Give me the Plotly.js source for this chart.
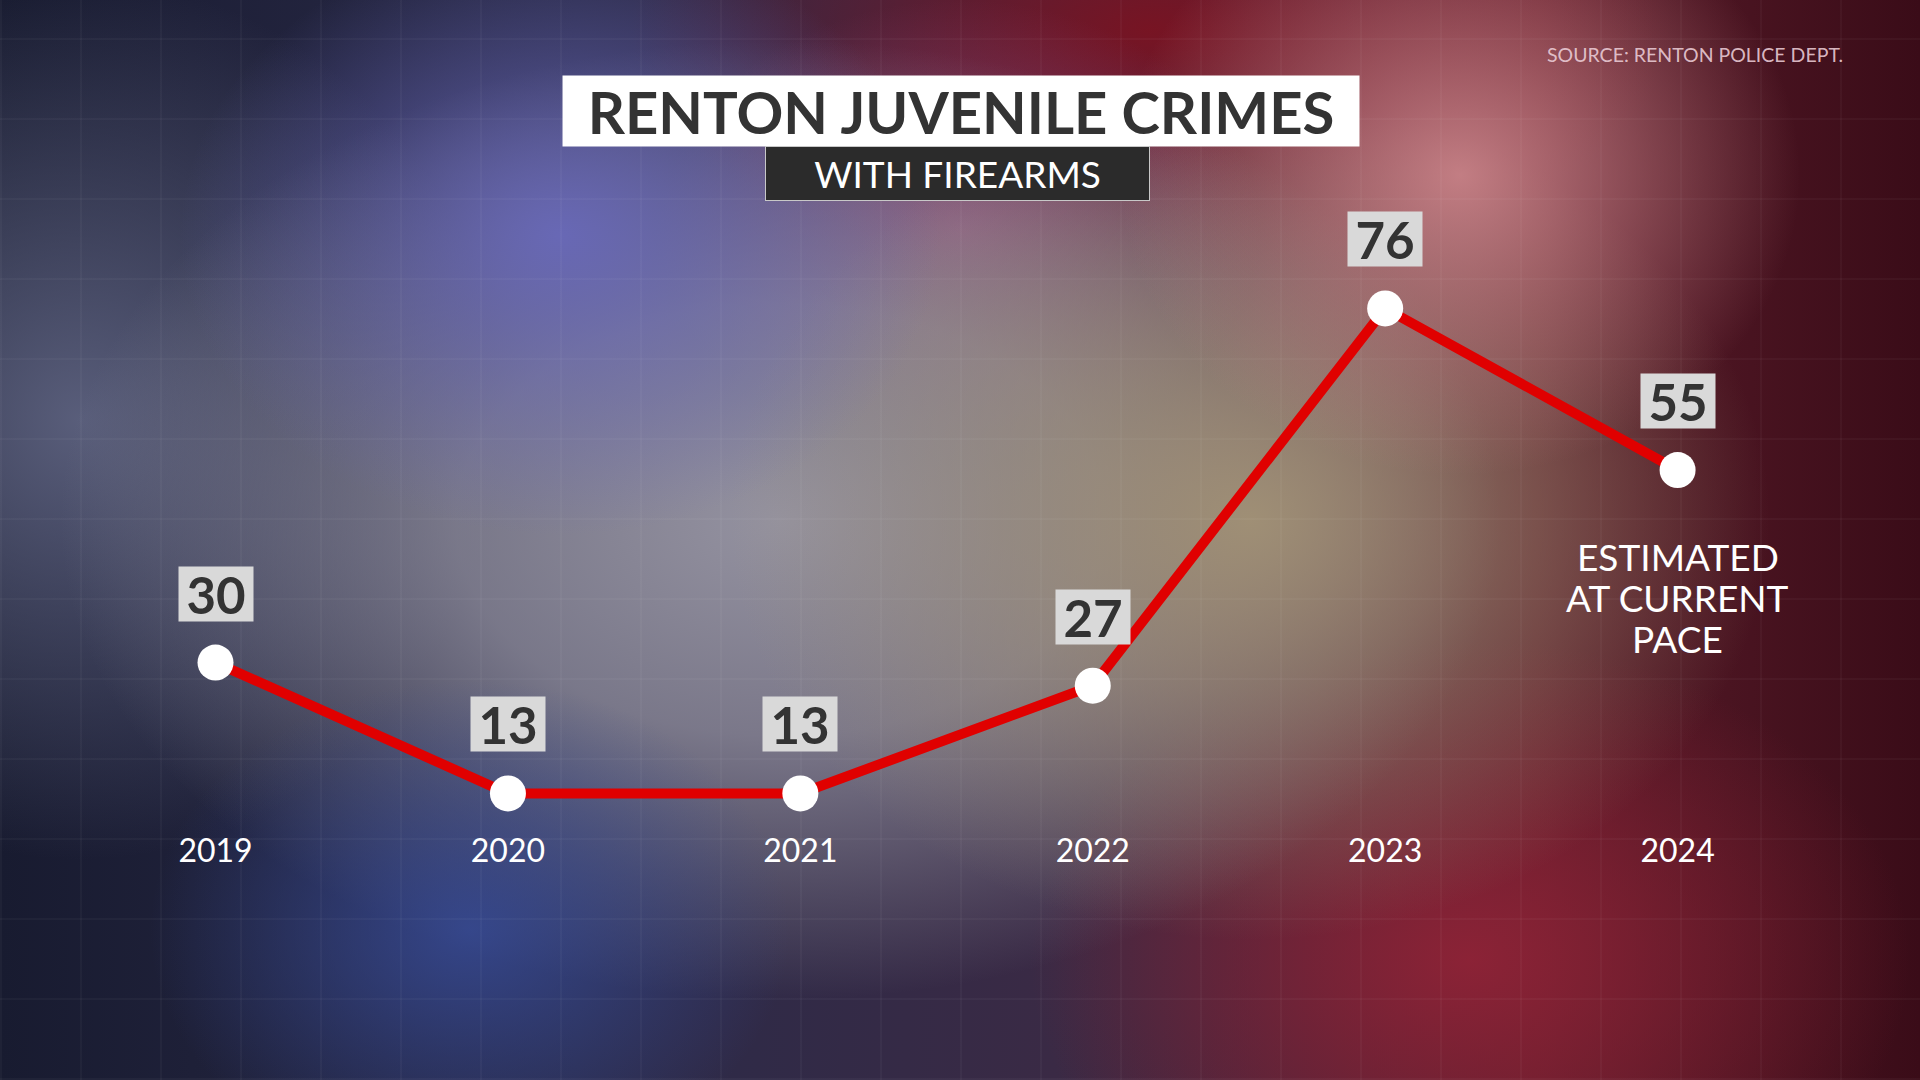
<!DOCTYPE html>
<html>
<head>
<meta charset="utf-8">
<script src="https://cdn.plot.ly/plotly-3.0.1.min.js"></script>
<style>
html,body{margin:0;padding:0;width:1920px;height:1080px;overflow:hidden;}
body{
  background:
    repeating-linear-gradient(90deg, rgba(255,255,255,0.03) 0 2px, rgba(255,255,255,0) 2px 80px),
    repeating-linear-gradient(0deg, rgba(255,255,255,0.03) 0 2px, rgba(255,255,255,0) 2px 80px),
    radial-gradient(ellipse 340px 300px at 1460px 175px, rgba(205,135,140,0.9), rgba(205,135,140,0) 100%),
    radial-gradient(ellipse 380px 300px at 560px 235px, rgba(105,105,185,0.95), rgba(105,105,185,0) 100%),
    radial-gradient(ellipse 320px 250px at 470px 930px, rgba(55,75,150,0.85), rgba(55,75,150,0) 100%),
    radial-gradient(ellipse 520px 420px at 1250px 520px, rgba(162,146,118,0.95) 0%, rgba(162,146,118,0.6) 40%, rgba(162,146,118,0) 100%),
    radial-gradient(ellipse 720px 480px at 780px 520px, rgba(148,146,160,1) 0%, rgba(148,146,160,0.75) 45%, rgba(148,146,160,0) 100%),
    radial-gradient(ellipse 300px 230px at 960px 230px, rgba(150,70,120,0.8), rgba(150,70,120,0) 100%),
    radial-gradient(ellipse 440px 320px at 1470px 960px, rgba(145,35,55,0.9), rgba(145,35,55,0) 100%),
    radial-gradient(ellipse 520px 250px at 1150px 30px, rgba(125,18,32,0.9), rgba(125,18,32,0) 100%),
    radial-gradient(ellipse 420px 440px at 80px 420px, rgba(100,105,135,0.85), rgba(100,105,135,0) 100%),
    linear-gradient(90deg, #181b30 0%, #2a2a48 30%, #3a2a45 55%, #5a1c2a 80%, #3a0c18 100%);
}
#chart{width:1920px;height:1080px;}
</style>
</head>
<body>
<div id="chart"></div>
<script>
const years = [2019, 2020, 2021, 2022, 2023, 2024];
const values = [30, 13, 13, 27, 76, 55];
const yearLabels = ["2019", "2020", "2021", "2022", "2023", "2024"];
const valueLabels = ["30", "13", "13", "27", "76", "55"];
const titleText = "RENTON JUVENILE CRIMES";
const subtitleText = "WITH FIREARMS";
const sourceText = "SOURCE: RENTON POLICE DEPT.";
const noteLines = ["ESTIMATED", "AT CURRENT", "PACE"];

const FONT = "Lato, 'Open Sans', sans-serif";

const traces = [{
  x: years,
  y: values,
  type: "scatter",
  mode: "lines+markers",
  line: {color: "#e00000", width: 10},
  marker: {color: "#ffffff", size: 36, line: {width: 0}},
  hoverinfo: "skip",
  cliponaxis: false
}];

const annotations = [];
years.forEach((yr, i) => {
  annotations.push({
    x: yr, y: values[i], xref: "x", yref: "y",
    text: "<b>" + valueLabels[i] + "</b>",
    showarrow: false,
    yshift: 69,
    bgcolor: "#d9d9d9",
    borderpad: 0,
    width: 74, height: 54,
    font: {family: FONT, size: 51, color: "#333333"}
  });
});
noteLines.forEach((line, k) => {
  annotations.push({
    x: years[5], y: values[5], xref: "x", yref: "y",
    text: line, showarrow: false, yanchor: "middle",
    yshift: -(86 + 41 * k),
    font: {family: FONT, size: 37, color: "#ffffff"}
  });
});
annotations.push({
  x: 961/1920, y: 1 - 111/1080, xref: "paper", yref: "paper",
  yanchor: "middle", xanchor: "center",
  text: "<b>" + titleText + "</b>", showarrow: false,
  bgcolor: "#ffffff", width: 796, height: 70, borderpad: 0,
  font: {family: FONT, size: 58, color: "#333333"}
});
annotations.push({
  x: 957.5/1920, y: 1 - 173.5/1080, xref: "paper", yref: "paper",
  yanchor: "middle", xanchor: "center",
  text: subtitleText, showarrow: false,
  bgcolor: "#2b2b2b", bordercolor: "#c8c8c8", borderwidth: 1,
  width: 383, height: 53, borderpad: 0,
  font: {family: FONT, size: 37, color: "#ffffff"}
});
annotations.push({
  x: 1845/1920, y: 1 - 54/1080, xref: "paper", yref: "paper",
  xanchor: "right", yanchor: "middle",
  text: sourceText, showarrow: false,
  font: {family: FONT, size: 19.5, color: "rgba(235,205,215,0.9)"}
});

const layout = {
  width: 1920, height: 1080,
  margin: {l: 0, r: 0, t: 0, b: 0},
  paper_bgcolor: "rgba(0,0,0,0)",
  plot_bgcolor: "rgba(0,0,0,0)",
  showlegend: false,
  xaxis: {
    range: [2018.263, 2024.829],
    tickvals: years, ticktext: yearLabels,
    showgrid: false, zeroline: false, showline: false,
    ticks: "", anchor: "free", position: 1 - 829/1080,
    tickfont: {family: FONT, size: 32, color: "#ffffff"},
    fixedrange: true
  },
  yaxis: {
    range: [-24.21, 116.05],
    visible: false, fixedrange: true
  },
  annotations: annotations
};

Plotly.newPlot("chart", traces, layout, {displayModeBar: false, staticPlot: true});
</script>
</body>
</html>
